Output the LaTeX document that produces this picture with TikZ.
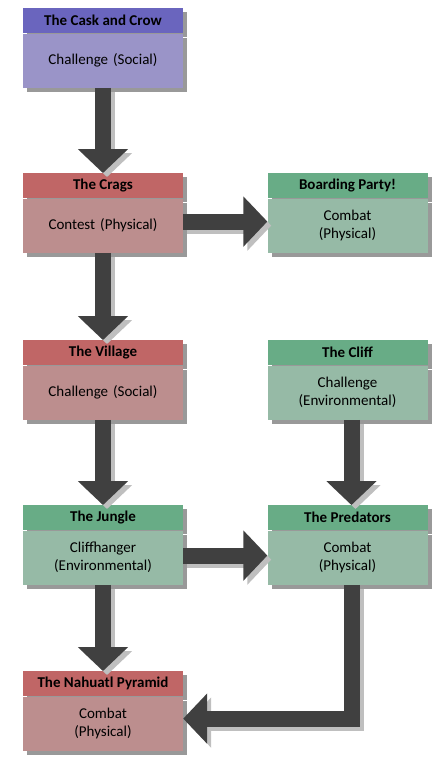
\documentclass[tikz,border=0pt]{standalone}
\usepackage{fontspec}
\setmainfont{Carlito}
\usetikzlibrary{positioning,arrows.meta,shadows}

\definecolor{tavernhead}{RGB}{106,101,190}
\definecolor{tavernbody}{RGB}{154,148,200}
\definecolor{redhead}{RGB}{192,102,102}
\definecolor{redbody}{RGB}{188,142,142}
\definecolor{greenhead}{RGB}{104,172,134}
\definecolor{greenbody}{RGB}{150,186,166}
\definecolor{flowgray}{RGB}{64,64,64}

\begin{document}
\begin{tikzpicture}[
            x=1pt, y=-1pt,
            boxshadow/.style={drop shadow={shadow xshift=4pt, shadow yshift=-4pt, fill=black!40, opacity=1}},
            title/.style={boxshadow, anchor=north, minimum width=160pt, minimum height=25pt, inner sep=0pt,
              font=\fontsize{15}{17}\selectfont\bfseries},
            detail/.style={boxshadow, minimum width=160pt, minimum height=54pt, inner sep=0pt,
              text width=156pt, align=center, font=\fontsize{15}{18}\selectfont},
            flow/.style={line width=16pt, draw=flowgray, line join=miter, -{Triangle[width=49pt,length=24pt]}},
            flowshadow/.style={flow, draw=black!25, transform canvas={shift={(4pt,-4pt)}}}
            ]
            \useasboundingbox (0,0) rectangle (442,760);
            % Left column
            \node[title, fill=tavernhead] (cask) at (103,8) {The Cask and Crow};
            \node[detail, fill=tavernbody, below=0pt of cask] (caskbody) {Challenge (Social)};
            \node[title, fill=redhead] (crags) at (103,173) {The Crags};
            \node[detail, fill=redbody, below=0pt of crags] (cragsbody) {Contest (Physical)};
            \node[title, fill=redhead] (village) at (103,340) {The Village};
            \node[detail, fill=redbody, below=0pt of village] (villagebody) {Challenge (Social)};
            \node[title, fill=greenhead] (jungle) at (103,505) {The Jungle};
            \node[detail, fill=greenbody, below=0pt of jungle] (junglebody) {Cliffhanger\\(Environmental)};
            \node[title, fill=redhead] (pyramid) at (103,671) {The Nahuatl Pyramid};
            \node[detail, fill=redbody, below=0pt of pyramid] (pyramidbody) {Combat\\(Physical)};
            % Right column
            \node[title, fill=greenhead] (boarding) at (347.5,173) {Boarding Party!};
            \node[detail, fill=greenbody, below=0pt of boarding] (boardingbody) {Combat\\(Physical)};
            \node[title, fill=greenhead] (cliff) at (347.5,340) {The Cliff};
            \node[detail, fill=greenbody, below=0pt of cliff] (cliffbody) {Challenge\\(Environmental)};
            \node[title, fill=greenhead] (predators) at (347.5,505) {The Predators};
            \node[detail, fill=greenbody, below=0pt of predators] (predatorsbody) {Combat\\(Physical)};
            % Arrows
            \foreach \style in {flowshadow, flow} {
              \draw[\style] (caskbody) -- (crags);
              \draw[\style] ([yshift=4pt]cragsbody.east) -- ([yshift=4pt]boardingbody.west);
              \draw[\style] (cragsbody) -- (village);
              \draw[\style] (villagebody) -- (jungle);
              \draw[\style] ([xshift=4pt]cliffbody.south) -- ([xshift=4pt]predators.north);
              \draw[\style] ([yshift=2pt]junglebody.east) -- ([yshift=2pt]predatorsbody.west);
              \draw[\style] (junglebody) -- (pyramid);
              \draw[\style] ([xshift=4pt]predatorsbody.south) |- ([yshift=5pt]pyramidbody.east);
            }
          \end{tikzpicture}
\end{document}
